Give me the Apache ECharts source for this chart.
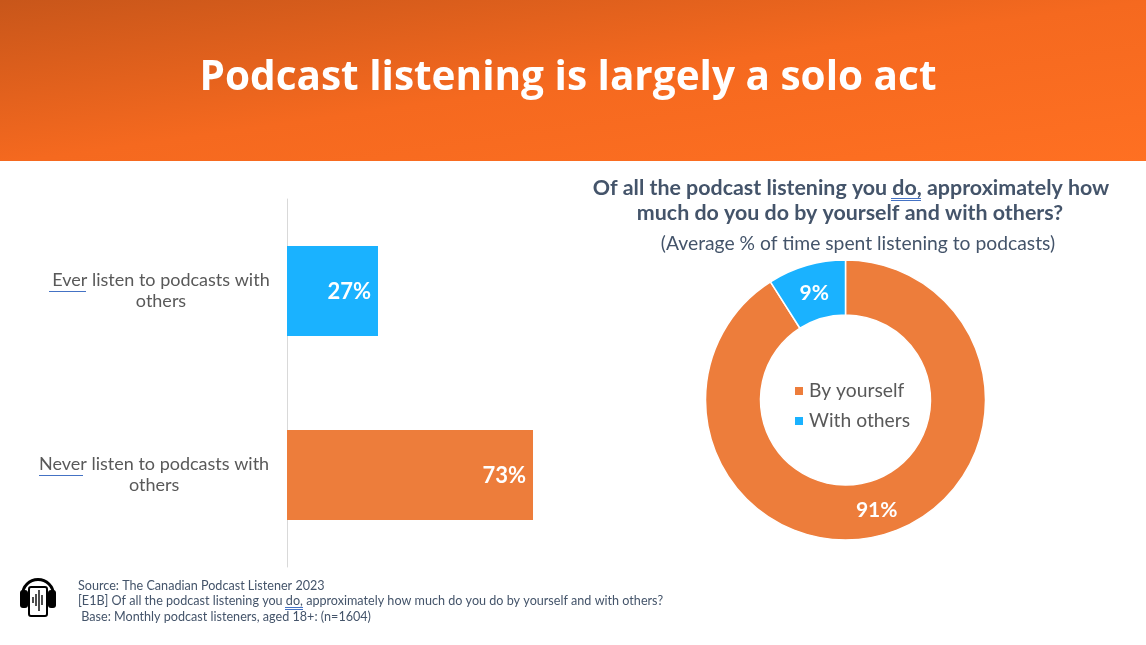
<!DOCTYPE html>
<html>
<head>
<meta charset="utf-8">
<style>html,body{margin:0;padding:0;background:#fff}#c{width:1146px;height:645px}</style>
<script src="https://cdn.jsdelivr.net/npm/echarts@6/dist/echarts.min.js"></script>
</head>
<body>
<div id="c"></div>
<script>
const barCategories = ['Never listen to podcasts with\nothers', 'Ever listen to podcasts with\nothers'];
const barValues = [73, 27];
const donutNames = ['By yourself', 'With others'];
const donutValues = [91, 9];
const ORANGE = '#ED7D3B';
const BLUE = '#1AB2FF';
const barColors = [ORANGE, BLUE];
const headline = 'Podcast listening is largely a solo act';
const questionLines = ['Of all the podcast listening you do, approximately how', 'much do you do by yourself and with others?'];
const questionNote = '(Average % of time spent listening to podcasts)';
const footnotes = [
  'Source: The Canadian Podcast Listener 2023',
  '[E1B] Of all the podcast listening you do, approximately how much do you do by yourself and with others?',
  ' Base: Monthly podcast listeners, aged 18+: (n=1604)'
];

const chart = echarts.init(document.getElementById('c'));

const textEl = (x, y, text, font, fill, align) => ({
  type: 'text', x, y,
  style: { text, font, fill, align: align || 'center', verticalAlign: 'middle' }
});
const rule = (x1, y1, x2, y2, stroke, lineWidth) => ({
  type: 'line', shape: { x1, y1, x2, y2 }, style: { stroke, lineWidth: lineWidth || 1 }
});

// The "Never" label sits a little further left than the "Ever" one.
const padLabel = value => value.startsWith('Never')
  ? value.split('\n').map(line => line + '\u00a0'.repeat(3)).join('\n')
  : value;

chart.setOption({
  animation: false,
  backgroundColor: '#fff',
  grid: { left: 287, top: 199, width: 337, height: 368 },
  xAxis: { type: 'value', min: 0, max: 100, show: false },
  yAxis: {
    type: 'category',
    data: barCategories,
    offset: 1,
    axisLine: { show: true, lineStyle: { color: '#d9d9d9', width: 1 } },
    axisTick: { show: false },
    axisLabel: {
      margin: 125, align: 'center', color: '#595959',
      fontFamily: 'Lato', fontSize: 18, lineHeight: 21, padding: [4, 0, 0, 0],
      formatter: padLabel
    }
  },
  legend: {
    orient: 'vertical', left: 793, top: 380, padding: 0,
    data: donutNames, icon: 'rect', itemWidth: 10, itemHeight: 10, itemGap: 8,
    textStyle: { color: '#595959', fontFamily: 'Lato', fontSize: 19.3, lineHeight: 22 }
  },
  series: [
    {
      type: 'bar',
      data: barValues.map((v, i) => ({ value: v, itemStyle: { color: barColors[i] } })),
      barWidth: 90,
      label: {
        show: true, position: 'insideRight', distance: 7, offset: [0, 1],
        formatter: '{c}%', color: '#fff',
        fontFamily: 'Lato', fontWeight: 'bold', fontSize: 22
      }
    },
    {
      type: 'pie',
      center: [845.5, 400],
      radius: [85, 140],
      startAngle: 90,
      clockwise: true,
      data: donutNames.map((n, i) => ({
        name: n, value: donutValues[i], itemStyle: { color: barColors[i] },
        label: { offset: i === 1 ? [1, 4] : [-1, -1] }
      })),
      itemStyle: { borderColor: '#fff', borderWidth: 1.5 },
      label: {
        show: true, position: 'inside', formatter: '{c}%', color: '#fff',
        fontFamily: 'Lato', fontWeight: 'bold', fontSize: 21
      },
      labelLine: { show: false },
      emphasis: { disabled: true }
    }
  ],
  graphic: [
    {
      type: 'rect', z: -1, shape: { x: 0, y: 0, width: 1146, height: 161 },
      style: {
        fill: new echarts.graphic.LinearGradient(0, 0, 0.04, 2, [
          { offset: 0, color: '#C8561A' },
          { offset: 0.5, color: '#F5691F' },
          { offset: 1, color: '#FF7022' }
        ])
      }
    },
    textEl(568, 78, headline, '700 40.5px "Open Sans"', '#fff'),
    textEl(851, 188, questionLines[0], '700 21.4px Lato', '#44546A'),
    textEl(850, 213, questionLines[1], '700 21.4px Lato', '#44546A'),
    textEl(858, 244, questionNote, '19.3px Lato', '#44546A'),
    rule(891, 198.5, 921, 198.5, '#4472C4'),
    rule(891, 200.5, 921, 200.5, '#4472C4'),
    rule(49, 291.5, 86, 291.5, '#4472C4'),
    rule(39, 475.5, 83, 475.5, '#4472C4'),
    textEl(78, 586, footnotes[0], '12.6px Lato', '#44546A', 'left'),
    textEl(78, 601, footnotes[1], '12.6px Lato', '#44546A', 'left'),
    textEl(78, 617, footnotes[2], '12.6px Lato', '#44546A', 'left'),
    rule(285, 607.5, 303, 607.5, '#4472C4'),
    rule(285, 609.5, 303, 609.5, '#4472C4'),
    // headphone and phone badge beside the source notes
    { type: 'arc', shape: { cx: 38, cy: 595, r: 15.5, startAngle: Math.PI, endAngle: 0 }, style: { stroke: '#000', lineWidth: 3, fill: 'none' } },
    { type: 'rect', shape: { x: 20, y: 590, width: 8, height: 18, r: 3 }, style: { fill: '#000' } },
    { type: 'rect', shape: { x: 48, y: 590, width: 8, height: 18, r: 3 }, style: { fill: '#000' } },
    { type: 'rect', shape: { x: 29, y: 587, width: 18, height: 29, r: 2 }, style: { fill: '#fff', stroke: '#000', lineWidth: 2 } },
    rule(33, 597, 33, 603, '#000', 1.4),
    rule(36, 594, 36, 606, '#000', 1.4),
    rule(39, 590, 39, 611, '#000', 1.4),
    rule(42, 595, 42, 605, '#000', 1.4)
  ]
});
</script>
</body>
</html>
